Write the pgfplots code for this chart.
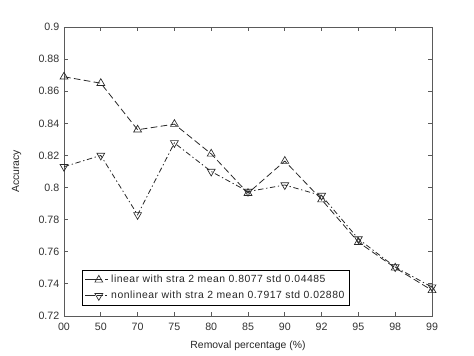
\documentclass[border=0pt]{standalone}
\usepackage{pgfplots}
\pgfplotsset{compat=1.18}
\usepackage{fontspec}
\setmainfont{Liberation Sans}
\newfontfamily\legfont[LetterSpace=5]{Liberation Sans}
\definecolor{axgray}{RGB}{90,90,90}
\definecolor{lncol}{RGB}{40,40,40}
\begin{document}
\begin{tikzpicture}[x=1pt,y=1pt]
\useasboundingbox (-48,-29.25) rectangle (307.5,237);
\begin{axis}[
  at={(0,0)}, anchor=south west,
  scale only axis,
  width=276pt, height=216.75pt,
  xmin=0, xmax=10, ymin=0.72, ymax=0.9,
  xtick={0,...,10},
  xticklabels={00,50,70,75,80,85,90,92,95,98,99},
  ytick={0.72,0.74,0.76,0.78,0.8,0.82,0.84,0.86,0.88,0.9},
  yticklabels={0.72,0.74,0.76,0.78,0.8,0.82,0.84,0.86,0.88,0.9},
  tick align=inside,
  major tick length=3pt,
  axis line style={axgray, line width=0.7pt},
  every tick/.style={axgray, line width=0.7pt},
  tick label style={font=\fontsize{8}{9}\selectfont, text=black!80},
  xticklabel style={yshift=-1.5pt},
  /pgf/number format/assume math mode=true,
  xlabel={Removal percentage (\%)},
  ylabel={Accuracy},
  label style={font=\fontsize{7.8}{9}\selectfont, text=black!85},
  xlabel style={yshift=-1pt},
  ylabel style={yshift=6pt},
  legend style={at={(0.049,0.159)}, anchor=north west,
    font=\legfont\fontsize{7.8}{9}\selectfont, draw=black, line width=0.6pt,
    inner xsep=2pt, inner ysep=1.5pt, row sep=0.8pt, text=black!85},
  legend cell align=left,
  legend image code/.code={
    \draw[#1, solid] (0pt,0pt) -- (7pt,0pt);
    \draw[#1, only marks] plot coordinates {(10pt,0pt)};
    \path (0pt,0pt) -- (17pt,0pt);
  },
]
\addplot[lncol, line width=0.6pt, dash pattern=on 5pt off 2.5pt,
  mark=triangle, mark size=3.4pt, mark options={solid, line width=0.5pt}]
  coordinates {(0,0.869) (1,0.865) (2,0.836) (3,0.8395) (4,0.821) (5,0.7965) (6,0.8165) (7,0.7925) (8,0.766) (9,0.750) (10,0.736)};
\addlegendentry{linear with stra 2 mean 0.8077 std 0.04485}
\addplot[lncol, line width=0.6pt, dash pattern=on 4pt off 2pt on 1pt off 2pt,
  mark=triangle, mark size=3.4pt, mark options={solid, rotate=180, line width=0.5pt}]
  coordinates {(0,0.813) (1,0.820) (2,0.783) (3,0.8278) (4,0.810) (5,0.7975) (6,0.8016) (7,0.795) (8,0.768) (9,0.7505) (10,0.738)};
\addlegendentry{nonlinear with stra 2 mean 0.7917 std 0.02880}
\end{axis}
\end{tikzpicture}
\end{document}
